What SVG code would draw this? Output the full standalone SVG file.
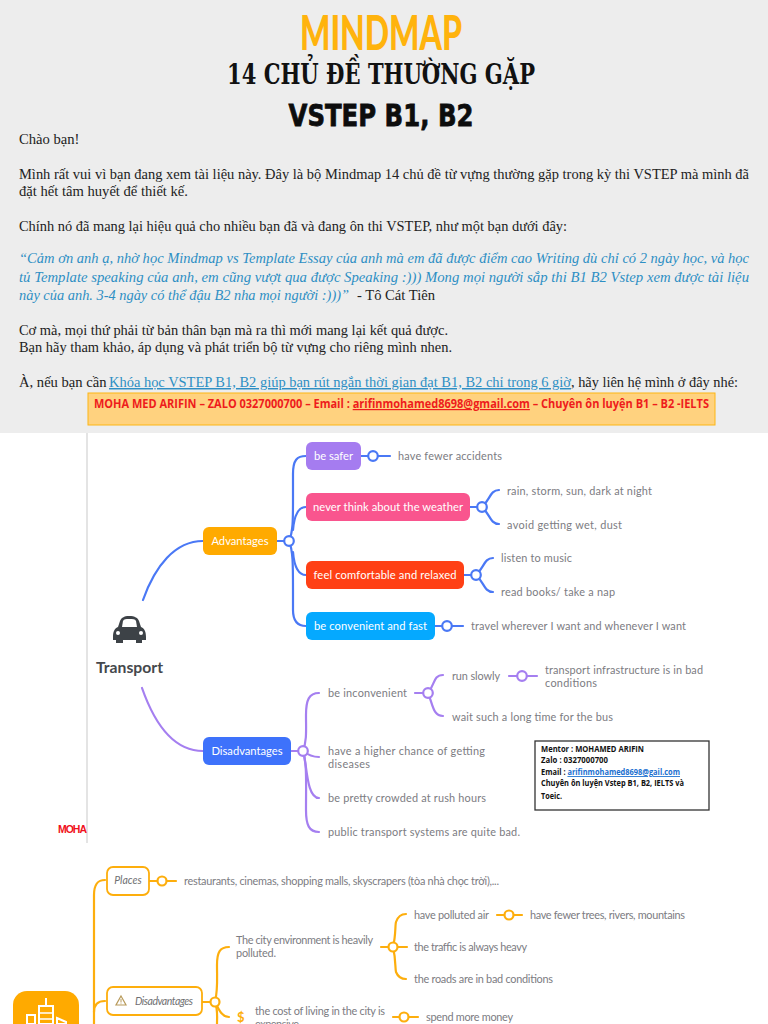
<svg xmlns="http://www.w3.org/2000/svg" width="768" height="1024" viewBox="0 0 768 1024">
<style>
.b{font:14.6px "Liberation Serif",serif;fill:#222}
.q{font:italic 14.6px "Liberation Serif",serif;fill:#2e8fc4}
.a{font:14.6px "Liberation Serif",serif;fill:#2e8fc4;text-decoration:underline}
.l{font:10.9px Lato,"Noto Sans",sans-serif;fill:#7c7c82}
.w{font:11.2px Lato,"Noto Sans",sans-serif;fill:#fff;text-anchor:middle}
.i{font:italic 10.5px Lato,"Noto Sans",sans-serif;fill:#6f6f72;text-anchor:middle}
.c{fill:none;stroke-width:2.2;stroke-linecap:round}
.bl{stroke:#4a78f5}.pu{stroke:#a57ff0}.or{stroke:#fdae0d}
.n{fill:#fff;stroke-width:2.2}
.m{font:bold 8.6px "Open Sans","Liberation Sans",sans-serif;fill:#111}
.r{font:bold 12px "Open Sans","Liberation Sans",sans-serif;fill:#ee1c1c}
</style>
<rect width="768" height="1024" fill="#fff"/>
<rect width="768" height="433" fill="#ededed"/>
<g id="title">
<text x="381" y="50" text-anchor="middle" font-family="Lato,sans-serif" font-weight="900" font-size="48" fill="#ffb30d" textLength="162" lengthAdjust="spacingAndGlyphs">MINDMAP</text>
<text x="381" y="84" text-anchor="middle" font-family="'DejaVu Serif',serif" font-weight="bold" font-size="27" fill="#111" textLength="308" lengthAdjust="spacingAndGlyphs">14 CHỦ ĐỀ THƯỜNG GẶP</text>
<text x="381" y="126" text-anchor="middle" font-family="'DejaVu Sans',sans-serif" font-weight="bold" font-size="31" fill="#0d0d0d" stroke="#0d0d0d" stroke-width=".8" textLength="185" lengthAdjust="spacingAndGlyphs">VSTEP B1, B2</text>
</g>
<g id="intro">
<text class="b" x="19" y="144">Chào bạn!</text>
<text class="b" x="19" y="179" textLength="730" lengthAdjust="spacingAndGlyphs">Mình rất vui vì bạn đang xem tài liệu này. Đây là bộ Mindmap 14 chủ đề từ vựng thường gặp trong kỳ thi VSTEP mà mình đã</text>
<text class="b" x="19" y="196">đặt hết tâm huyết để thiết kế.</text>
<text class="b" x="19" y="231" textLength="548" lengthAdjust="spacingAndGlyphs">Chính nó đã mang lại hiệu quả cho nhiều bạn đã và đang ôn thi VSTEP, như một bạn dưới đây:</text>
<text class="q" x="19" y="263" textLength="730" lengthAdjust="spacingAndGlyphs">“Cảm ơn anh ạ, nhờ học Mindmap vs Template Essay của anh mà em đã được điểm cao Writing dù chỉ có 2 ngày học, và học</text>
<text class="q" x="19" y="282" textLength="730" lengthAdjust="spacingAndGlyphs">tủ Template speaking của anh, em cũng vượt qua được Speaking :))) Mong mọi người sắp thi B1 B2 Vstep xem được tài liệu</text>
<text class="q" x="19" y="300" textLength="330" lengthAdjust="spacingAndGlyphs">này của anh. 3-4 ngày có thể đậu B2 nha mọi người :)))”</text>
<text class="b" x="357" y="300">- Tô Cát Tiên</text>
<text class="b" x="19" y="335" textLength="429" lengthAdjust="spacingAndGlyphs">Cơ mà, mọi thứ phải từ bản thân bạn mà ra thì mới mang lại kết quả được.</text>
<text class="b" x="19" y="352" textLength="433" lengthAdjust="spacingAndGlyphs">Bạn hãy tham khảo, áp dụng và phát triển bộ từ vựng cho riêng mình nhen.</text>
<text class="b" x="19" y="387">À, nếu bạn cần</text>
<text class="a" x="109" y="387" textLength="462" lengthAdjust="spacingAndGlyphs">Khóa học VSTEP B1, B2 giúp bạn rút ngắn thời gian đạt B1, B2 chỉ trong 6 giờ</text>
<text class="b" x="571" y="387" textLength="167" lengthAdjust="spacingAndGlyphs">, hãy liên hệ mình ở đây nhé:</text>
</g>
<g id="banner">
<rect x="88" y="393" width="627" height="32" fill="#ffd27f" stroke="#fdb614" stroke-width="1"/>
<text class="r" x="94" y="408" textLength="615" lengthAdjust="spacingAndGlyphs">MOHA MED ARIFIN – ZALO 0327000700 – Email : <tspan text-decoration="underline">arifinmohamed8698@gmail.com</tspan> – Chuyên ôn luyện B1 – B2 -IELTS</text>
</g>
<g id="connectors">
<path d="M87 433V843" stroke="#c9c9c9" stroke-width="1" fill="none"/>
<g class="c bl">
<path d="M143 600C155 566 175 541 203 541M277 541H289"/>
<path d="M289 541C293 532 293 520 293 500V474C293 460 297 456 306 456"/>
<path d="M293 530C294 518 297 507 306 507"/>
<path d="M293 552C294 564 297 575 306 575"/>
<path d="M289 541C293 550 293 565 293 590V610C293 620 297 626 306 626"/>
<path d="M361 456H390M470 507H482M482 507C490 500 490 490 499 490M482 507C490 514 490 524 499 524"/>
<path d="M464 575H476M476 575C484 568 484 558 493 558M476 575C484 582 484 592 493 592M435 626H463"/>
</g>
<g class="c pu">
<path d="M142 688C155 725 175 751 203 751M291 751H303"/>
<path d="M303 751C307 740 306 730 306 715C306 700 309 693 319 693"/>
<path d="M303 751C308 755 312 757 319 757"/>
<path d="M303 751C307 762 306 798 319 798"/>
<path d="M303 751C307 765 306 780 306 810C306 825 309 832 319 832"/>
<path d="M415 693H428M428 693C435 685 433 675 443 675M428 693C433 705 433 716 443 716M509 676H537"/>
</g>
<g class="c or">
<path d="M105 880C97 880 94 885 94 895V1024"/>
<path d="M105 1001C98 1001 94 1005 94 1012"/>
<path d="M149 881H176M202 1002H215"/>
<path d="M215 1002C218 990 217 980 217 965C217 952 220 947 229 947"/>
<path d="M215 1002C219 1010 222 1017 229 1017"/>
<path d="M215 1002C218 1010 217 1016 217 1024"/>
<path d="M381 947H407M393 947C396 935 395 925 396 922C398 916 401 914 406 914M393 947C396 960 395 968 396 972C398 977 401 979 406 979"/>
<path d="M497 915H522M393 1017H418"/>
</g>
<g class="n" stroke="#4a78f5"><circle cx="289" cy="541" r="4.8"/><circle cx="373" cy="456" r="4.8"/><circle cx="482" cy="507" r="4.8"/><circle cx="476" cy="575" r="4.8"/><circle cx="447" cy="626" r="4.8"/></g>
<g class="n" stroke="#a57ff0"><circle cx="303" cy="751" r="4.8"/><circle cx="428" cy="693" r="4.8"/><circle cx="522" cy="676" r="4.8"/></g>
<g class="n" stroke="#fdae0d"><circle cx="162" cy="881" r="4.5"/><circle cx="215" cy="1002" r="4.5"/><circle cx="393" cy="947" r="4.5"/><circle cx="509" cy="915" r="4.5"/><circle cx="404" cy="1017" r="4.5"/></g>
</g>
<g id="transport-root">
<path d="M113 637C113 631 115 628 118 627L120 621C121 618 124 616 129 616C135 616 138 618 139 621L141 627C144 628 146 631 146 637V640H142V643H136V640H123V643H116V640H113Z" fill="#3d4247"/>
<path d="M122 627L123 621C124 619 126 619 129 619C133 619 135 619 136 621L137 627Z" fill="#fff"/>
<circle cx="118" cy="633" r="2" fill="#fff"/><circle cx="141" cy="633" r="2" fill="#fff"/>
<text x="96" y="673" font-family="Lato,sans-serif" font-weight="bold" font-size="14.5" fill="#45484c" textLength="67" lengthAdjust="spacingAndGlyphs">Transport</text>
</g>
<g id="advantages"><rect x="203" y="527" width="74" height="28" rx="6" fill="#ffaa00"/><text class="w" x="240" y="545">Advantages</text></g>
<g id="be-safer"><rect x="306" y="442" width="55" height="28" rx="6" fill="#a57cf0"/><text class="w" x="333.500" y="460">be safer</text></g>
<g id="weather"><rect x="306" y="493" width="164" height="28" rx="6" fill="#f9558e"/><text class="w" x="388" y="511" textLength="150">never think about the weather</text></g>
<g id="comfortable"><rect x="306" y="561" width="158" height="28" rx="6" fill="#ff4015"/><text class="w" x="385" y="579" textLength="143">feel comfortable and relaxed</text></g>
<g id="convenient"><rect x="306" y="612" width="129" height="28" rx="6" fill="#05a9ff"/><text class="w" x="370.500" y="630" textLength="113">be convenient and fast</text></g>
<g id="disadvantages"><rect x="203" y="737" width="88" height="28" rx="6" fill="#3e72fb"/><text class="w" x="247" y="755">Disadvantages</text></g>
<g id="leaves-transport">
<text class="l" x="398" y="460" textLength="104">have fewer accidents</text>
<text class="l" x="507" y="495" textLength="145">rain, storm, sun, dark at night</text>
<text class="l" x="507" y="529" textLength="115">avoid getting wet, dust</text>
<text class="l" x="501" y="562" textLength="71">listen to music</text>
<text class="l" x="501" y="596" textLength="114">read books/ take a nap</text>
<text class="l" x="471" y="630" textLength="215">travel wherever I want and whenever I want</text>
<text class="l" x="328" y="697" textLength="79">be inconvenient</text>
<text class="l" x="452" y="680" textLength="48">run slowly</text>
<text class="l" x="545" y="674" textLength="158">transport infrastructure is in bad</text>
<text class="l" x="545" y="687" textLength="52">conditions</text>
<text class="l" x="452" y="721" textLength="161">wait such a long time for the bus</text>
<text class="l" x="328" y="755" textLength="157">have a higher chance of getting</text>
<text class="l" x="328" y="768" textLength="42">diseases</text>
<text class="l" x="328" y="802" textLength="158">be pretty crowded at rush hours</text>
<text class="l" x="328" y="836" textLength="192">public transport systems are quite bad.</text>
</g>
<g id="mentor">
<rect x="535" y="741" width="174" height="69" fill="#fff" stroke="#333" stroke-width="1.3"/>
<text class="m" x="541" y="752" textLength="103" lengthAdjust="spacingAndGlyphs">Mentor : MOHAMED ARIFIN</text>
<text class="m" x="541" y="763" textLength="67" lengthAdjust="spacingAndGlyphs">Zalo : 0327000700</text>
<text class="m" x="541" y="775" textLength="139" lengthAdjust="spacingAndGlyphs">Email : <tspan fill="#1a6fd0" text-decoration="underline">arifinmohamed8698@gail.com</tspan></text>
<text class="m" x="541" y="786" textLength="143" lengthAdjust="spacingAndGlyphs">Chuyên ôn luyện Vstep B1, B2, IELTS và</text>
<text class="m" x="541" y="799" textLength="21" lengthAdjust="spacingAndGlyphs">Toeic.</text>
</g>
<text id="moha" x="58" y="833" font-family="'Liberation Sans',sans-serif" font-weight="bold" font-size="10.5" fill="#f01020" textLength="29">MOHA</text>
<g id="city-root">
<rect x="13" y="991" width="66" height="60" rx="14" fill="#ffaa00"/>
<path d="M46 998V1006M39 1006H53V1024H39ZM27 1015H35V1024H27ZM57 1018L66 1022V1024H57Z" fill="none" stroke="#fff" stroke-width="2"/>
<path d="M39 1013H53M39 1019H53" stroke="#fff" stroke-width="1.500"/>
</g>
<g id="places"><rect x="107" y="867" width="42" height="28" rx="6" fill="#fff" stroke="#fdae0d" stroke-width="1.800"/><text class="i" x="128" y="884">Places</text></g>
<g id="city-disadvantages"><rect x="107" y="987" width="95" height="28" rx="6" fill="#fff" stroke="#fdae0d" stroke-width="1.800"/>
<path d="M121 996L126 1005H116Z" fill="none" stroke="#b89a5a" stroke-width="1.200"/><path d="M121 999V1002.500M121 1003.500V1004.200" stroke="#b89a5a" stroke-width="1"/>
<text class="i" x="164" y="1005" textLength="58">Disadvantages</text></g>
<g id="leaves-city">
<text class="l" x="184" y="885" textLength="315">restaurants, cinemas, shopping malls, skyscrapers (tòa nhà chọc trời),...</text>
<text class="l" x="236" y="944" textLength="137">The city environment is heavily</text>
<text class="l" x="236" y="957" textLength="40">polluted.</text>
<text class="l" x="414" y="919" textLength="75">have polluted air</text>
<text class="l" x="530" y="919" textLength="155">have fewer trees, rivers, mountains</text>
<text class="l" x="414" y="951" textLength="113">the traffic is always heavy</text>
<text class="l" x="414" y="983" textLength="139">the roads are in bad conditions</text>
<text x="237" y="1022" font-family="Lato,sans-serif" font-weight="bold" font-size="13" fill="#fdae0d">$</text>
<text class="l" x="255" y="1015" textLength="130">the cost of living in the city is</text>
<text class="l" x="255" y="1028" textLength="46">expensive.</text>
<text class="l" x="426" y="1021" textLength="87">spend more money</text>
</g>
</svg>
